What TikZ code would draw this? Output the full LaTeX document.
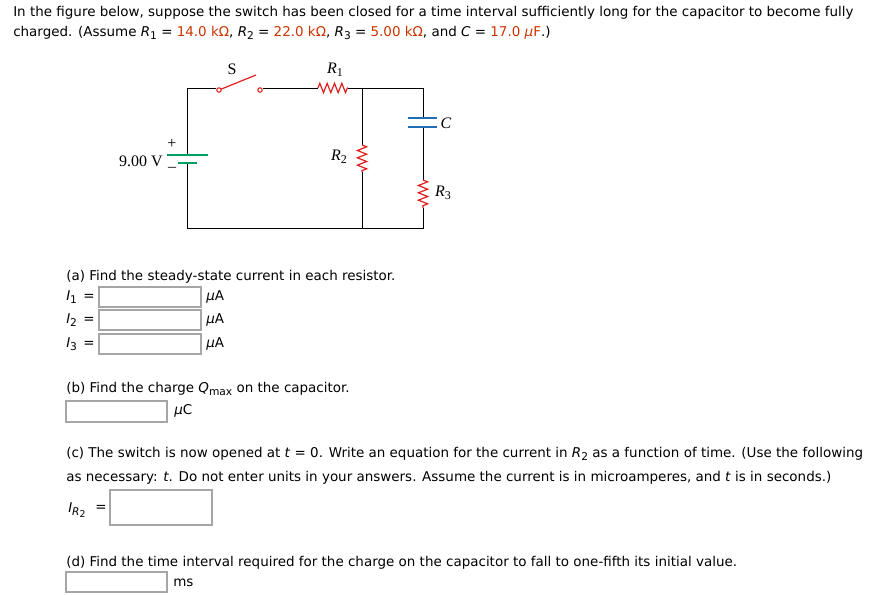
\documentclass[tikz,border=0pt]{standalone}
\usepackage{fontspec}
\setmainfont{DejaVu Sans}
\newfontfamily\circfont{Liberation Serif}
\usetikzlibrary{decorations.pathmorphing}
\definecolor{valc}{HTML}{CC3300}
\definecolor{resc}{HTML}{E02020}
\definecolor{batc}{HTML}{00A060}
\definecolor{capc}{HTML}{1F6FB5}
\newcommand{\vv}[2]{\textit{#1}\raisebox{-0.35ex}{\fontsize{8}{9}\selectfont #2}}
\newcommand{\cv}[2]{\textit{#1}\raisebox{-0.35ex}{\fontsize{9}{10}\selectfont #2}}
\begin{document}
\begin{tikzpicture}[x=0.75pt,y=-0.75pt,
  txt/.style={anchor=west,inner sep=0pt,font=\fontsize{10.1}{12}\selectfont},
  clab/.style={inner sep=0pt,font=\circfont\fontsize{12}{14}\selectfont},
  ansbox/.style={draw=gray!70,line width=0.9pt},
  wire/.style={line width=0.6pt,black},
  res/.style={resc,line width=0.9pt,decorate,decoration={zigzag,segment length=5.5pt,amplitude=3.5pt}}]
\useasboundingbox (0,0) rectangle (884,595);
\node[txt] (l1) at (13,13) {In the figure below, suppose the switch has been closed for a time interval sufficiently long for the capacitor to become fully};
\node[txt] (l2) at (13,33) {charged. (Assume \vv{R}{1} = {\color{valc}14.0 kΩ}, \vv{R}{2} = {\color{valc}22.0 kΩ}, \vv{R}{3} = {\color{valc}5.00 kΩ}, and \textit{C} = {\color{valc}17.0 \textit{μ}F}.)};
% circuit
\coordinate (tl) at (187,88); \coordinate (bl) at (187,228);
\coordinate (tm) at (362,88); \coordinate (bm) at (362,228);
\coordinate (tr) at (423,88); \coordinate (br) at (423,228);
\coordinate (s1) at (219,90); \coordinate (s2) at (260,90);
\coordinate (r1a) at (318,88); \coordinate (r1b) at (348,88);
\coordinate (r2a) at (362,145); \coordinate (r2b) at (362,172);
\coordinate (r3a) at (423,180); \coordinate (r3b) at (423,208);
\coordinate (c1) at (423,118); \coordinate (c2) at (423,127);
\coordinate (b1) at (187,155); \coordinate (b2) at (187,163);
\draw[wire] (s1)++(-3,-2) -- (tl) -- (b1);
\draw[wire] (b2) -- (bl) -- (br) -- (r3b);
\draw[wire] (s2)++(3,-2) -- (r1a);
\draw[wire] (r1b) -- (tr) -- (c1);
\draw[wire] (c2) -- (r3a);
\draw[wire] (tm) -- (r2a); \draw[wire] (r2b) -- (bm);
\draw[res] (r1a) -- (r1b);
\draw[res] (r2a) -- (r2b);
\draw[res] (r3a) -- (r3b);
\draw[resc,line width=0.9pt] (s1) -- (256,75);
\draw[resc,line width=0.8pt,fill=white] (s1) circle (2.2);
\draw[resc,line width=0.8pt,fill=white] (s2) circle (2.2);
\draw[batc,line width=1.6pt] (167,155) -- (208,155);
\draw[batc,line width=1.6pt] (178,163) -- (197,163);
\draw[capc,line width=1.6pt] (408,118) -- (437,118);
\draw[capc,line width=1.6pt] (408,127) -- (437,127);
\node[clab] (S) at (232,69) {S};
\node[clab] (R1) at (335,70) {\cv{R}{1}};
\node[clab] (R2) at (339,157) {\cv{R}{2}};
\node[clab] (R3) at (443,193) {\cv{R}{3}};
\node[clab] (C) at (446,123) {\textit{C}};
\node[clab] (V) at (141,161) {9.00 V};
\node[clab] (pl) at (172,144) {+};
\node[clab] (mi) at (172,169) {\textendash};
% (a)
\node[txt] (a) at (66,277) {(a) Find the steady-state current in each resistor.};
\foreach \i/\y in {1/297,2/320,3/344}{
  \node[txt] (I\i) at (66,\y) {\vv{I}{\i}};
  \node[txt] (eq\i) at (83,\y) {=};
  \draw[ansbox] (99,\y-10) rectangle (201,\y+10);
  \node[txt] (u\i) at (206,\y) {\textit{μ}A};
}
% (b)
\node[txt] (b) at (66,389) {(b) Find the charge \vv{Q}{max} on the capacitor.};
\draw[ansbox] (66,401) rectangle (167,422);
\node[txt] (ub) at (174,411) {\textit{μ}C};
% (c)
\node[txt] (c) at (66,454) {(c) The switch is now opened at \textit{t} = 0. Write an equation for the current in \vv{R}{2} as a function of time. (Use the following};
\node[txt] (c2t) at (66,478) {as necessary: \textit{t}. Do not enter units in your answers. Assume the current is in microamperes, and \textit{t} is in seconds.)};
\node[txt] (IR) at (68,510) {\textit{I}\raisebox{-0.5ex}{\fontsize{8}{9}\selectfont\textit{R}\raisebox{-0.3ex}{\fontsize{7}{8}\selectfont 2}}};
\node[txt] (eqc) at (95,508) {=};
\draw[ansbox] (110,490) rectangle (212,525);
% (d)
\node[txt] (d) at (66,563) {(d) Find the time interval required for the charge on the capacitor to fall to one-fifth its initial value.};
\draw[ansbox] (66,572) rectangle (167,592);
\node[txt] (ud) at (173,583) {ms};
\end{tikzpicture}
\end{document}
